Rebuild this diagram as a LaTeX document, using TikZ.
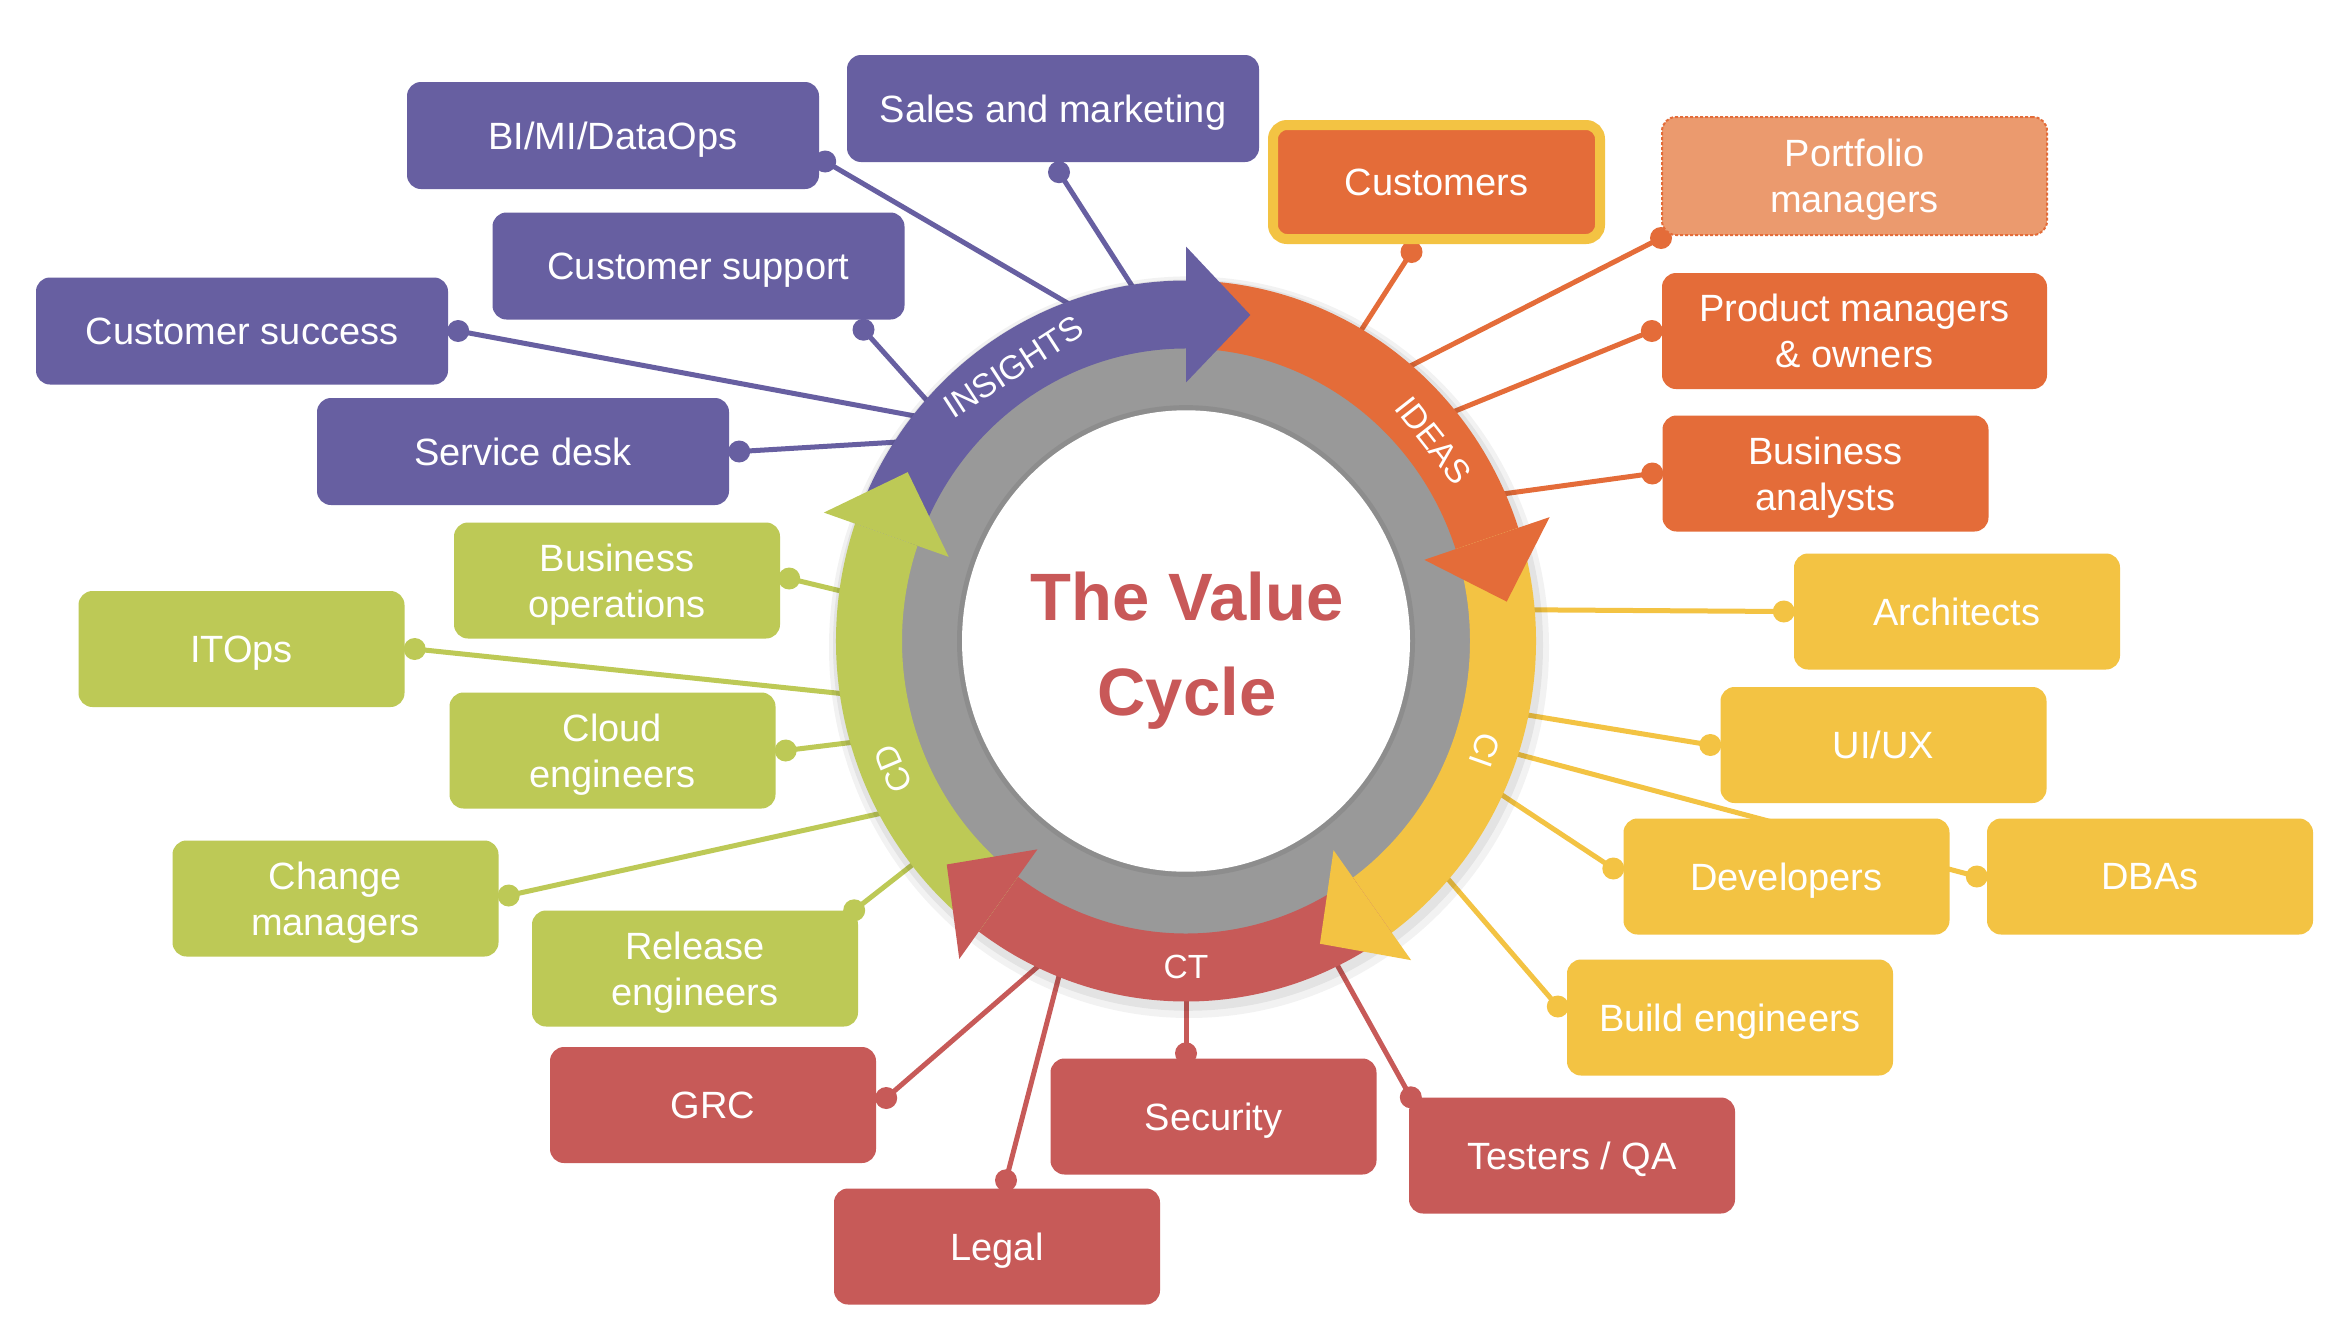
\documentclass[tikz,border=0pt]{standalone}
\usepackage{fontspec}
\setmainfont{Liberation Sans}
\usetikzlibrary{calc}
\definecolor{cpurple}{HTML}{675FA1}
\definecolor{corange}{HTML}{E46C39}
\definecolor{clorange}{HTML}{EB9A6E}
\definecolor{cyellow}{HTML}{F3C343}
\definecolor{cred}{HTML}{C75A58}
\definecolor{cgreen}{HTML}{BDC956}
\definecolor{cgray}{HTML}{999999}
\definecolor{ctitle}{HTML}{C85858}
\pgfdeclarelayer{lines}
\pgfdeclarelayer{ring}
\pgfsetlayers{lines,ring,main}
\newcommand\vcband[3]{\fill[#1] (#2:350) arc[start angle=#2,end angle=#3,radius=350] -- (#3:284) arc[start angle=#3,end angle=#2,radius=284] -- cycle;}
\newcommand\vchead[2]{\fill[#1] (#2:251) -- (#2:383) -- ({#2-11.5}:323) -- cycle;}
\tikzset{
  box/.style={rounded corners=14pt, minimum width=326pt, minimum height=116pt, inner sep=0pt,
    align=center, text=white, font=\fontsize{38}{46}\selectfont, text depth=0pt},
  pbox/.style={box, fill=cpurple, minimum width=412pt, minimum height=107pt},
  obox/.style={box, fill=corange},
  ybox/.style={box, fill=cyellow},
  rbox/.style={box, fill=cred},
  gbox/.style={box, fill=cgreen},
  con/.style={line width=5pt, color=#1},
  enddot/.style={circle, fill, inner sep=0pt, minimum size=22pt},
  ringlbl/.style={text=white, font=\fontsize{33.5}{34}\selectfont, inner sep=0pt},
  titletxt/.style={text=ctitle, font=\fontsize{67}{67}\selectfont\bfseries, anchor=base, inner sep=0pt}
}
\begin{document}
\begin{tikzpicture}[x=1pt,y=-1pt]
\useasboundingbox (0,0) rectangle (2348,1344);
\begin{pgfonlayer}{lines}
  \fill[white] (0,0) rectangle (2348,1344);
\end{pgfonlayer}

% ---------- boxes ----------
\node[pbox] (bi) at (613,135.5) {BI/MI/DataOps};
\node[pbox] (sales) at (1053,108.5) {Sales and marketing};
\node[pbox] (csup) at (698.5,266) {Customer support};
\node[pbox] (csuc) at (242,331) {Customer success};
\node[pbox] (sdesk) at (523,451.5) {Service desk};

\node[box, fill=corange, draw=cyellow, line width=10pt, minimum width=327pt, minimum height=114pt] (cust) at (1436.5,182) {Customers};
\node[box, fill=clorange, draw=corange, densely dashed, line width=2pt, minimum width=385pt, minimum height=118pt] (port) at (1854.5,176) {Portfolio\\managers};
\node[obox, minimum width=385pt] (prod) at (1854.5,331) {Product managers\\\& owners};
\node[obox] (ba) at (1825.5,473.5) {Business\\analysts};

\node[ybox] (arch) at (1957,611.5) {Architects};
\node[ybox] (uiux) at (1883.5,745) {UI/UX};
\node[ybox] (dev) at (1786.5,876.5) {Developers};
\node[ybox] (dba) at (2150,876.5) {DBAs};
\node[ybox] (build) at (1730,1017.5) {Build engineers};

\node[rbox] (grc) at (713,1105) {GRC};
\node[rbox] (sec) at (1213.5,1116.5) {Security};
\node[rbox] (test) at (1572,1155.5) {Testers / QA};
\node[rbox] (legal) at (997,1246.5) {Legal};

\node[gbox] (busops) at (617,580.5) {Business\\operations};
\node[gbox] (itops) at (241.5,649) {ITOps};
\node[gbox] (cloud) at (612.5,750.5) {Cloud\\engineers};
\node[gbox] (change) at (335.5,898.5) {Change\\managers};
\node[gbox] (rel) at (695,968.5) {Release\\engineers};

% ---------- ring ----------
\begin{pgfonlayer}{ring}
\begin{scope}[shift={(1186,641)}, yscale=-1.03]
  \fill[black, opacity=0.05] (3,-6) circle[radius=360];
  \fill[black, opacity=0.06] (2,-4) circle[radius=355];
  \fill[cgray] (0,0) circle[radius=292];
  \fill[black, opacity=0.08] (0,0) circle[radius=229];
  \fill[white] (0,0) circle[radius=224];
  \vcband{cpurple}{161}{90}
  \vcband{corange}{90}{18.3}
  \vcband{cyellow}{18.3}{-54}
  \vcband{cred}{-54}{-126.3}
  \vcband{cgreen}{-126.3}{-199}
  \vchead{cpurple}{90}
  \vchead{corange}{18.3}
  \vchead{cyellow}{-54}
  \vchead{cred}{-126.3}
  \vchead{cgreen}{-199}
  \node[ringlbl, rotate=33] (lins) at (123:317) {INSIGHTS};
  \node[ringlbl, rotate=-51.8] (lide) at (38.2:315) {IDEAS};
  \node[ringlbl, rotate=-109.5] (lci) at (-19.5:317) {CI};
  \node[ringlbl] (lct) at (-90:316) {CT};
  \node[ringlbl, rotate=113] (lcd) at (-157:318) {CD};
  % connector ends on the ring
  \coordinate (r-bi) at (107.8:335);
  \coordinate (r-sales) at (97.8:335);
  \coordinate (r-csup) at (138.2:335);
  \coordinate (r-csuc) at (139.9:335);
  \coordinate (r-sdesk) at (144.6:335);
  \coordinate (r-cust) at (60:335);
  \coordinate (r-port) at (51:335);
  \coordinate (r-prod) at (40.5:335);
  \coordinate (r-ba) at (24.9:335);
  \coordinate (r-arch) at (5.2:335);
  \coordinate (r-uiux) at (-12:335);
  \coordinate (r-dba) at (-18.5:335);
  \coordinate (r-dev) at (-25:335);
  \coordinate (r-build) at (-41.1:335);
  \coordinate (r-test) at (-64.5:335);
  \coordinate (r-sec) at (-90:335);
  \coordinate (r-legal) at (-111.6:335);
  \coordinate (r-grc) at (-114:335);
  \coordinate (r-rel) at (-141.5:335);
  \coordinate (r-change) at (-150.6:335);
  \coordinate (r-cloud) at (-163.2:335);
  \coordinate (r-itops) at (-171:335);
  \coordinate (r-busops) at (172.2:335);
\end{scope}
\node[titletxt] (t1) at (1187,620) {The Value};
\node[titletxt] (t2) at (1187,715) {Cycle};
\end{pgfonlayer}

% ---------- connectors ----------
\begin{pgfonlayer}{lines}
  \draw[con=cpurple] (r-bi) -- ([xshift=6pt,yshift=-26pt]bi.east) node[enddot]{};
  \draw[con=cpurple] (r-sales) -- ([xshift=6pt,yshift=-10pt]sales.south) node[enddot]{};
  \draw[con=cpurple] (r-csup) -- ([xshift=165pt,yshift=-10pt]csup.south) node[enddot]{};
  \draw[con=cpurple] (r-csuc) -- ([xshift=10pt]csuc.east) node[enddot]{};
  \draw[con=cpurple] (r-sdesk) -- ([xshift=10pt]sdesk.east) node[enddot]{};

  \draw[con=corange] (r-cust) -- ([xshift=-25pt,yshift=-8pt]cust.south) node[enddot]{};
  \draw[con=corange] (r-port) -- ([yshift=-2pt]port.south west) node[enddot]{};
  \draw[con=corange] (r-prod) -- ([xshift=-10pt]prod.west) node[enddot]{};
  \draw[con=corange] (r-ba) -- ([xshift=-10pt]ba.west) node[enddot]{};

  \draw[con=cyellow] (r-arch) -- ([xshift=-10pt]arch.west) node[enddot]{};
  \draw[con=cyellow] (r-uiux) -- ([xshift=-10pt]uiux.west) node[enddot]{};
  \draw[con=cyellow] (r-dba) -- ([xshift=-10pt]dba.west) node[enddot]{};
  \draw[con=cyellow] (r-dev) -- ([xshift=-10pt,yshift=8pt]dev.west) node[enddot]{};
  \draw[con=cyellow] (r-build) -- ([xshift=-9pt,yshift=11pt]build.west) node[enddot]{};

  \draw[con=cred] (r-test) -- ([xshift=2pt]test.north west) node[enddot]{};
  \draw[con=cred] (r-sec) -- ([xshift=-27.5pt,yshift=5pt]sec.north) node[enddot]{};
  \draw[con=cred] (r-legal) -- ([xshift=9pt,yshift=8pt]legal.north) node[enddot]{};
  \draw[con=cred] (r-grc) -- ([xshift=10pt,yshift=7pt]grc.east) node[enddot]{};

  \draw[con=cgreen] (r-rel) -- ([xshift=-4pt]rel.north east) node[enddot]{};
  \draw[con=cgreen] (r-change) -- ([xshift=10pt,yshift=3pt]change.east) node[enddot]{};
  \draw[con=cgreen] (r-cloud) -- ([xshift=10pt]cloud.east) node[enddot]{};
  \draw[con=cgreen] (r-itops) -- ([xshift=10pt]itops.east) node[enddot]{};
  \draw[con=cgreen] (r-busops) -- ([xshift=9pt,yshift=2pt]busops.east) node[enddot]{};
\end{pgfonlayer}
\end{tikzpicture}
\end{document}
